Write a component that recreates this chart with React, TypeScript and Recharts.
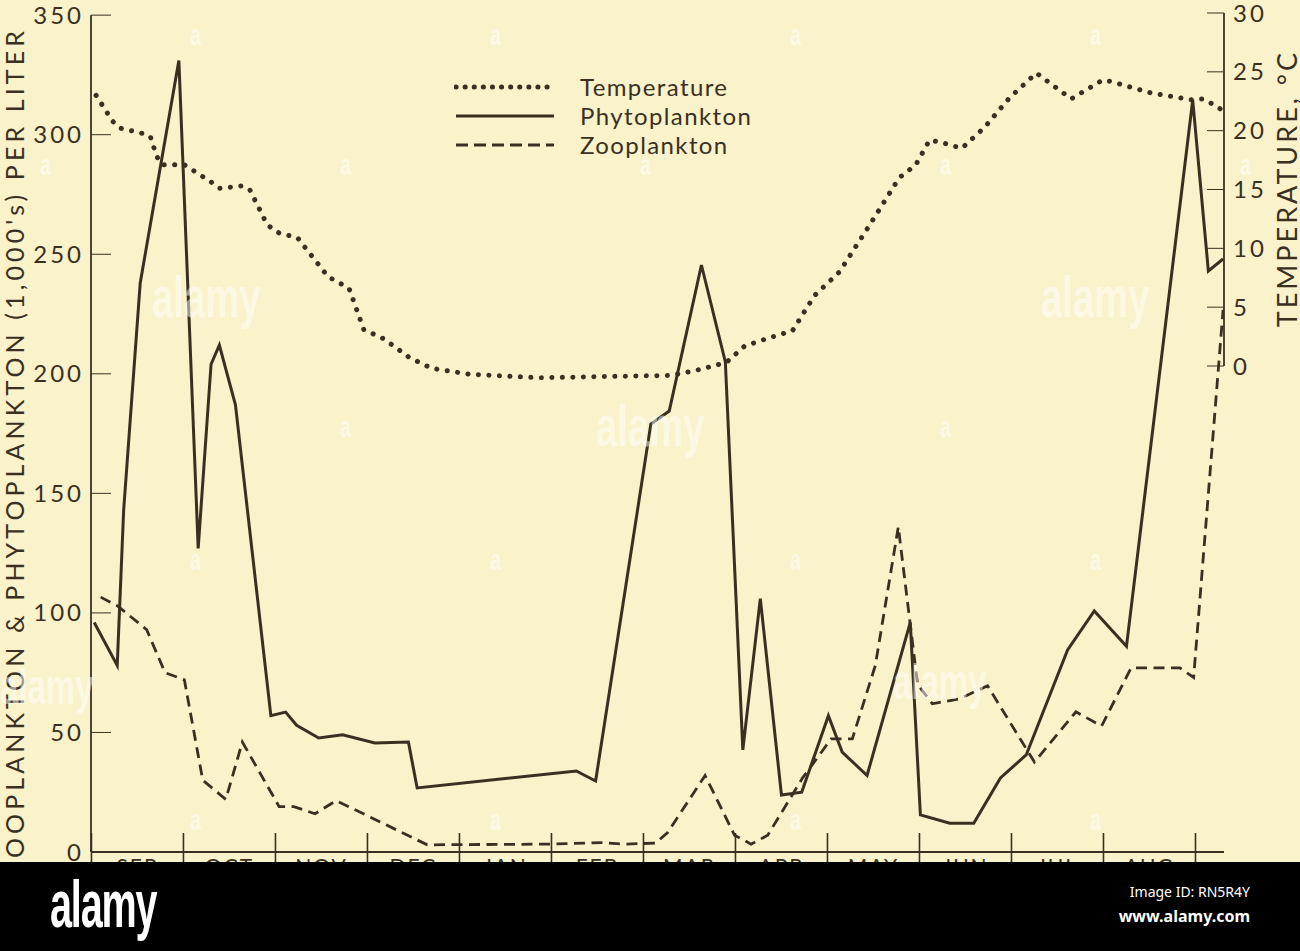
import { LineChart, Line, XAxis, YAxis, ReferenceLine, Legend, Label } from 'recharts';

const INK = '#3a3022';
const PAPER = '#f9f2ca';
const FONT = 'Lato, sans-serif';

const months = ['SEP', 'OCT', 'NOV', 'DEC', 'JAN', 'FEB', 'MAR', 'APR', 'MAY', 'JUN', 'JUL', 'AUG', ''];
const monthTicks = [0, 1, 2, 3, 4, 5, 6, 7, 8, 9, 10, 11, 12];
const planktonTicks = [0, 50, 100, 150, 200, 250, 300, 350];
const tempTicks = [0, 5, 10, 15, 20, 25, 30];

// x is months since the start of September
const phytoX = [0.03, 0.28, 0.35, 0.53, 0.95, 1.16, 1.3, 1.39, 1.565, 1.95, 2.11, 2.23, 2.47, 2.73, 3.08, 3.445, 3.54, 5.27, 5.48, 6.08, 6.28, 6.63, 6.89, 7.08, 7.27, 7.5, 7.72, 8.01, 8.16, 8.43, 8.9, 9.01, 9.33, 9.59, 9.88, 10.16, 10.61, 10.9, 11.25, 11.97, 12.14, 12.3];
const phytoY = [96, 78, 143, 238, 331, 127, 204, 212, 187, 57, 58.5, 53, 47.7, 49, 45.6, 46, 26.8, 33.9, 29.7, 179, 184.4, 245.5, 205, 42.7, 106, 23.8, 25, 57, 41.8, 32, 96, 15.5, 12, 12, 31, 40.6, 84.5, 100.8, 86, 314.5, 243, 248];

const zooX = [0.1, 0.28, 0.6, 0.8, 1.01, 1.21, 1.46, 1.64, 2.04, 2.2, 2.43, 2.66, 3.65, 4.99, 5.55, 5.79, 6.13, 6.26, 6.67, 6.99, 7.17, 7.35, 7.73, 8.04, 8.27, 8.52, 8.77, 8.98, 9.14, 9.43, 9.74, 10.25, 10.7, 10.98, 11.3, 11.83, 11.98, 12.3];
const zooY = [106.6, 103, 93, 75, 72, 30, 22, 46, 19, 19, 16, 21.5, 3, 3.3, 3.9, 3.3, 3.7, 8, 32, 7, 3.3, 7, 31, 47.3, 47.3, 78, 136, 70, 62, 64, 69.5, 37.6, 58.6, 52.7, 77, 77, 73, 226.7];

const tempX = [0.05, 0.23, 0.32, 0.54, 0.64, 0.71, 0.77, 1.01, 1.29, 1.39, 1.63, 1.72, 1.91, 2.04, 2.24, 2.57, 2.8, 2.96, 3.18, 3.46, 3.7, 4.11, 4.87, 5.52, 6.3, 6.61, 6.9, 7.1, 7.37, 7.62, 7.86, 8.13, 8.46, 8.78, 8.96, 9.11, 9.24, 9.46, 9.71, 9.98, 10.27, 10.65, 10.99, 11.07, 11.52, 11.97, 12.08, 12.2, 12.3];
const tempY = [23, 20.8, 20.2, 19.8, 19.5, 17.8, 17.1, 17.1, 15.7, 15.1, 15.3, 15, 12, 11.3, 10.9, 7.6, 6.6, 3.1, 2.3, 0.7, -0.2, -0.7, -1, -0.9, -0.8, -0.3, 0.3, 1.7, 2.4, 3, 6, 8, 12, 16, 17.1, 19.2, 19, 18.5, 20.3, 22.8, 24.9, 22.7, 24.3, 24.2, 23.2, 22.6, 22.7, 22.2, 21.7];

const toPoints = (xs: number[], ys: number[]) => xs.map((x, i) => ({ x, y: ys[i] }));
const phytoData = toPoints(phytoX, phytoY);
const zooData = toPoints(zooX, zooY);
const tempData = toPoints(tempX, tempY);

const legendItems = [
  { label: 'Temperature', dash: '0.1 9', width: 5, cap: 'round' as const },
  { label: 'Phytoplankton', dash: undefined, width: 2.8, cap: 'butt' as const },
  { label: 'Zooplankton', dash: '12 6', width: 2.8, cap: 'butt' as const },
];

// the stock photo marks that sit on the scan
const marks = [
  { text: 'alamy', x: 152, y: 268, size: 58 }, { text: 'alamy', x: 596, y: 397, size: 58 },
  { text: 'alamy', x: 1041, y: 268, size: 58 }, { text: 'alamy', x: 893, y: 657, size: 50 },
  { text: 'alamy', x: 0, y: 662, size: 50 }, { text: 'a', x: 190, y: 20, size: 30 },
  { text: 'a', x: 490, y: 20, size: 30 }, { text: 'a', x: 790, y: 20, size: 30 },
  { text: 'a', x: 1090, y: 20, size: 30 }, { text: 'a', x: 40, y: 150, size: 30 },
  { text: 'a', x: 340, y: 150, size: 30 }, { text: 'a', x: 640, y: 150, size: 30 },
  { text: 'a', x: 940, y: 150, size: 30 }, { text: 'a', x: 1240, y: 150, size: 30 },
  { text: 'a', x: 190, y: 545, size: 30 }, { text: 'a', x: 490, y: 545, size: 30 },
  { text: 'a', x: 790, y: 545, size: 30 }, { text: 'a', x: 1090, y: 545, size: 30 },
  { text: 'a', x: 340, y: 412, size: 30 }, { text: 'a', x: 940, y: 412, size: 30 },
  { text: 'a', x: 190, y: 805, size: 30 }, { text: 'a', x: 490, y: 805, size: 30 },
  { text: 'a', x: 790, y: 805, size: 30 }, { text: 'a', x: 1090, y: 805, size: 30 },
];

const MonthTick = ({ x, y, index }: any) => (
  <g>
    <line x1={x} x2={x} y1={y - 19} y2={y + 12} stroke={INK} strokeWidth={1.6} />
    <text x={x + 46} y={y + 22} textAnchor="middle" fontSize={21} fontFamily={FONT} letterSpacing={2} fill={INK}>
      {months[index]}
    </text>
  </g>
);

const LegendBox = () => (
  <div>
    {legendItems.map((item) => (
      <div key={item.label} style={{ display: 'flex', alignItems: 'center', height: 29 }}>
        <svg width={126} height={10} style={{ display: 'block' }}>
          <line x1={2} x2={100} y1={5} y2={5} stroke={INK} strokeWidth={item.width} strokeDasharray={item.dash} strokeLinecap={item.cap} />
        </svg>
        <span style={{ fontFamily: FONT, fontSize: 24, color: INK, letterSpacing: 1.4 }}>{item.label}</span>
      </div>
    ))}
  </div>
);

const LeftTitle = () => (
  <text transform="translate(24,27) rotate(-90)" x={0} y={0} textAnchor="end" fontFamily={FONT} fontSize={25} fill={INK} letterSpacing={4.1}>
    ZOOPLANKTON &amp; PHYTOPLANKTON (1,000's) PER LITER
  </text>
);

const RightTitle = () => (
  <text transform="translate(1297,50) rotate(-90)" x={0} y={0} textAnchor="end" fontFamily={FONT} fontSize={27} fill={INK} letterSpacing={3}>
    TEMPERATURE, °C
  </text>
);

const tickStyle = { fontSize: 24, fontFamily: FONT, fill: INK, letterSpacing: 3 };

export default function App() {
  return (
    <div style={{ position: 'fixed', left: 0, top: 0, width: 1300, height: 951, background: PAPER, overflow: 'hidden' }}>
      <LineChart width={1300} height={951} margin={{ top: 13, right: 0, bottom: 0, left: 0 }}>
        <XAxis
          xAxisId="m"
          type="number"
          dataKey="x"
          domain={[-0.005, 12.31]}
          ticks={monthTicks}
          interval={0}
          height={99}
          allowDataOverflow
          tickLine={false}
          tickSize={0}
          tickMargin={0}
          stroke={INK}
          strokeWidth={2}
          tick={<MonthTick />}
        />
        <YAxis
          yAxisId="plankton"
          width={91}
          domain={[0, 350.9]}
          ticks={planktonTicks}
          interval={0}
          allowDataOverflow
          axisLine={false}
          tickSize={-20}
          tickMargin={27}
          stroke={INK}
          tick={tickStyle}
        >
          <Label content={<LeftTitle />} />
        </YAxis>
        <YAxis
          yAxisId="temp"
          orientation="right"
          width={76}
          domain={[-41.3, 30]}
          ticks={tempTicks}
          interval={0}
          allowDataOverflow
          axisLine={false}
          tickSize={-17}
          tickMargin={26}
          stroke={INK}
          tick={tickStyle}
        >
          <Label content={<RightTitle />} />
        </YAxis>
        <ReferenceLine xAxisId="m" yAxisId="plankton" segment={[{ x: -0.005, y: 0 }, { x: -0.005, y: 350 }]} stroke={INK} strokeWidth={1.8} />
        <ReferenceLine xAxisId="m" yAxisId="temp" segment={[{ x: 12.31, y: 0 }, { x: 12.31, y: 30 }]} stroke={INK} strokeWidth={1.8} />
        <Legend layout="horizontal" verticalAlign="middle" content={<LegendBox />} wrapperStyle={{ position: 'absolute', left: 454, top: 72, width: 340 }} />
        <Line xAxisId="m" yAxisId="temp" data={tempData} dataKey="y" name="Temperature" stroke={INK} strokeWidth={5} strokeDasharray="0.1 10.4" strokeLinecap="round" dot={false} activeDot={false} isAnimationActive={false} />
        <Line xAxisId="m" yAxisId="plankton" data={phytoData} dataKey="y" name="Phytoplankton" stroke={INK} strokeWidth={3} dot={false} activeDot={false} isAnimationActive={false} />
        <Line xAxisId="m" yAxisId="plankton" data={zooData} dataKey="y" name="Zooplankton" stroke={INK} strokeWidth={2.8} strokeDasharray="11 6.5" dot={false} activeDot={false} isAnimationActive={false} />
      </LineChart>
      {marks.map((m, i) => (
        <div key={i} style={{ position: 'absolute', left: m.x, top: m.y, fontFamily: '"Liberation Sans", sans-serif', fontWeight: 700, fontSize: m.size, lineHeight: 1, color: 'rgba(255,255,255,0.5)', transform: 'scaleX(0.66)', transformOrigin: 'left top', pointerEvents: 'none' }}>
          {m.text}
        </div>
      ))}
      <div style={{ position: 'absolute', left: 0, top: 862, width: 1300, height: 89, background: '#000', color: '#fff' }}>
        <div style={{ position: 'absolute', left: 50, top: 9, fontFamily: '"Liberation Sans", sans-serif', fontWeight: 700, fontSize: 66, lineHeight: 1, letterSpacing: -2, transform: 'scaleX(0.6)', transformOrigin: 'left top' }}>alamy</div>
        <div style={{ position: 'absolute', right: 50, top: 22, fontFamily: '"Noto Sans", sans-serif', fontSize: 14, lineHeight: 1.2 }}>Image ID: RN5R4Y</div>
        <div style={{ position: 'absolute', right: 50, top: 45, fontFamily: '"Noto Sans", sans-serif', fontWeight: 700, fontSize: 16, lineHeight: 1.2 }}>www.alamy.com</div>
      </div>
    </div>
  );
}
